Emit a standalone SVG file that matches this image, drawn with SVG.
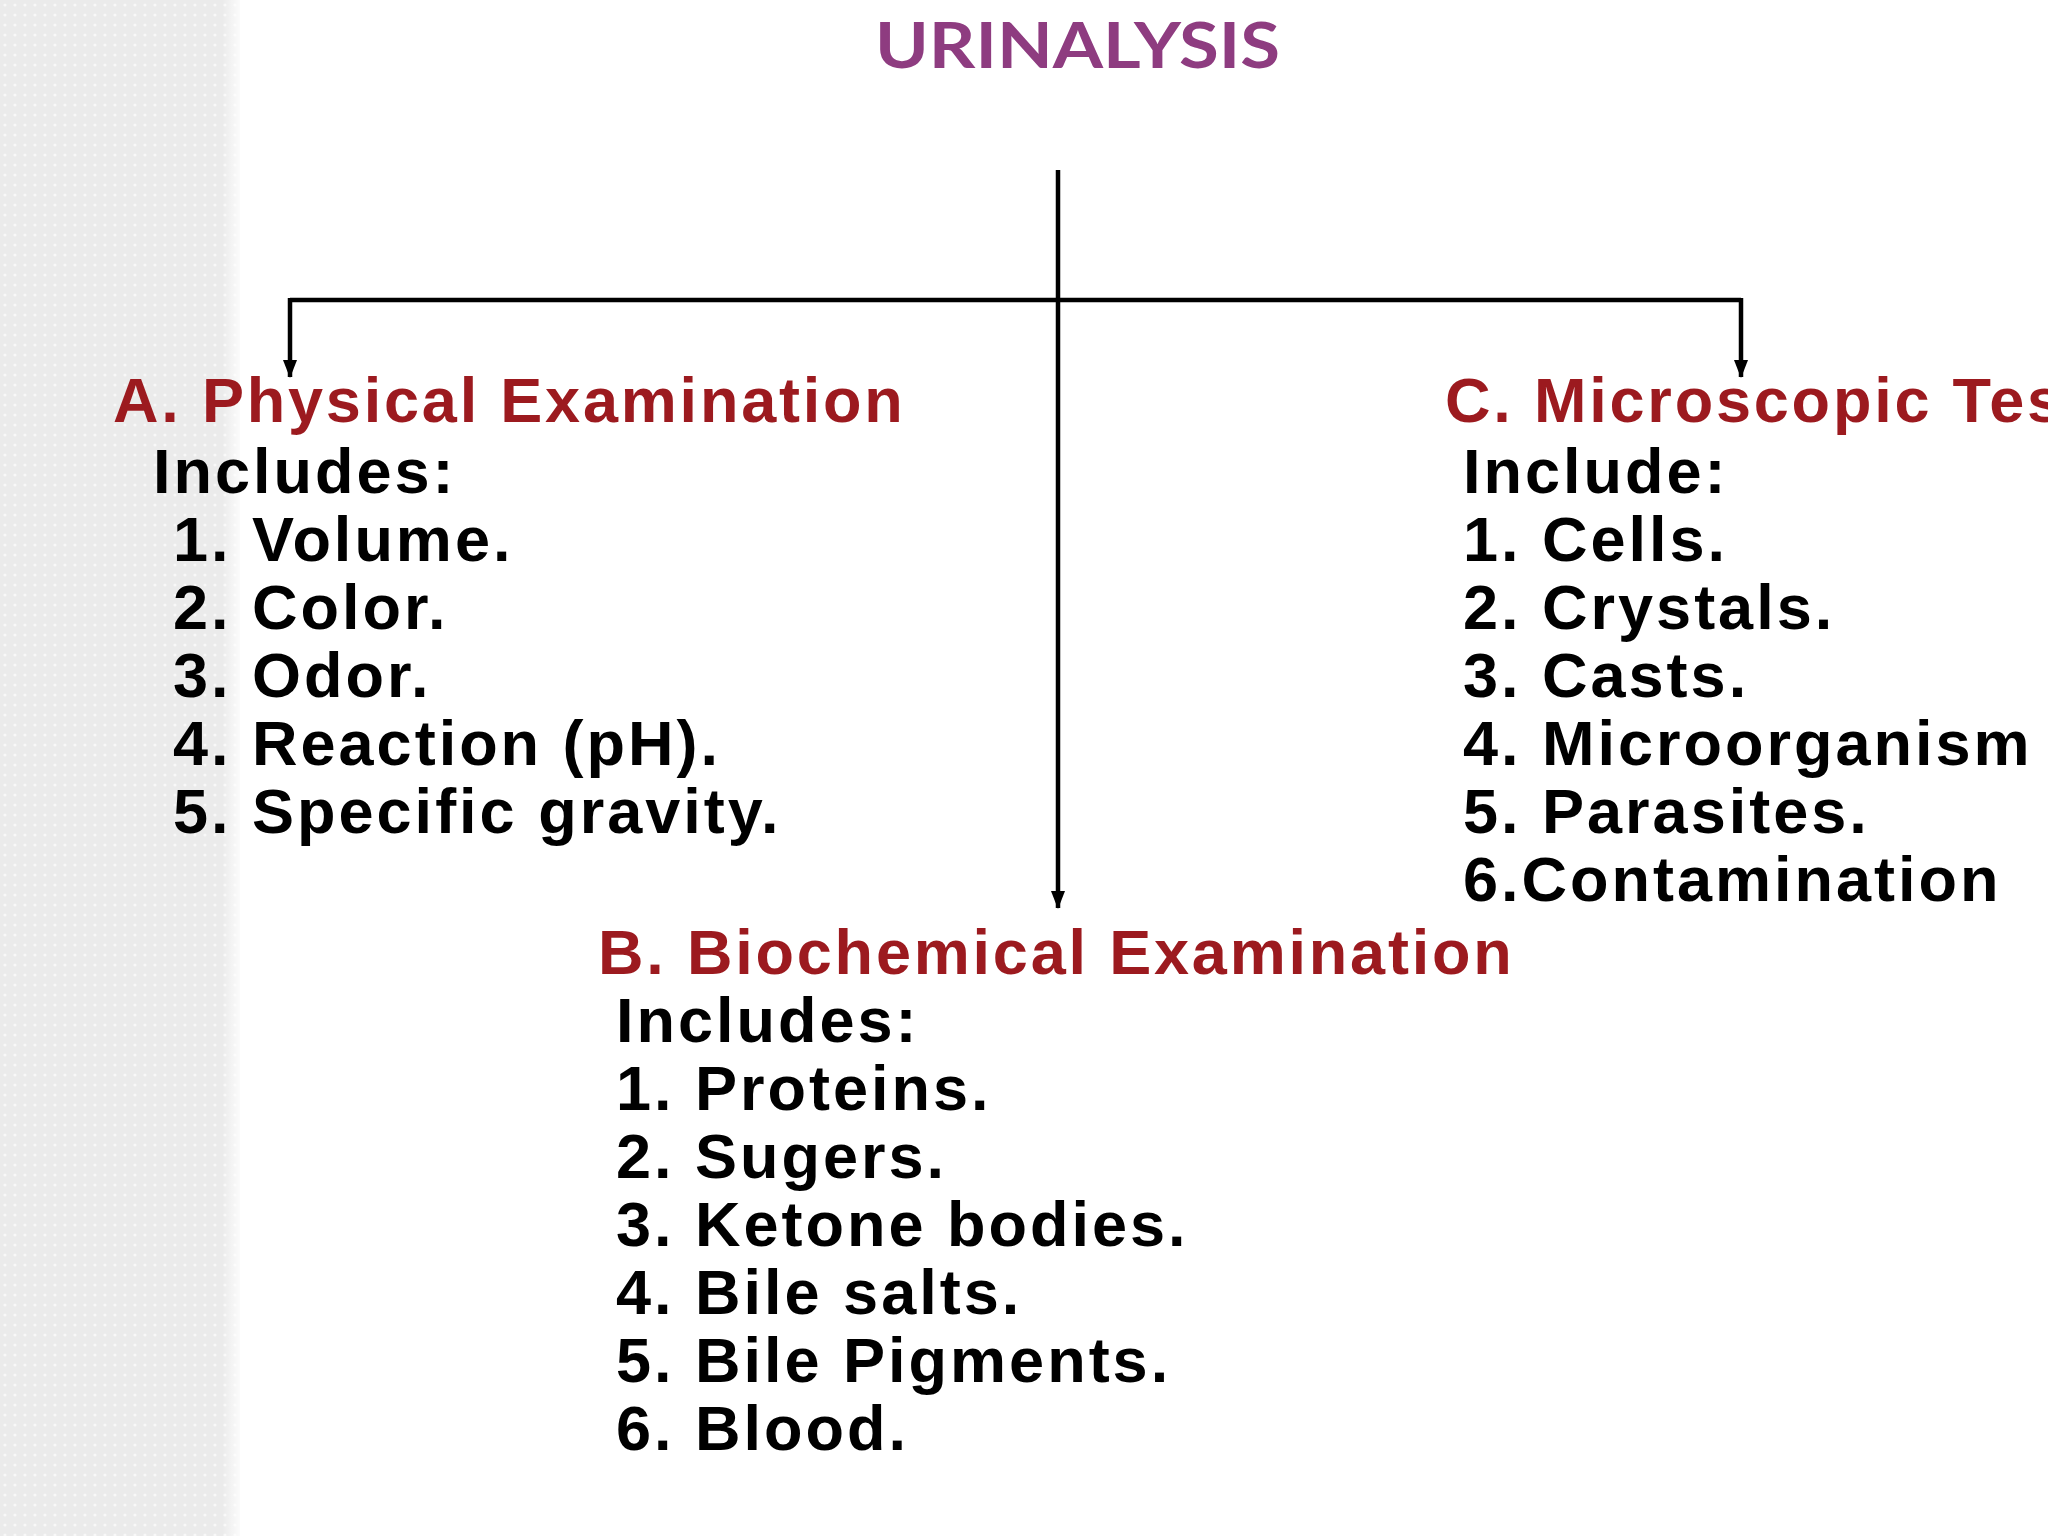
<svg xmlns="http://www.w3.org/2000/svg" width="2048" height="1536" viewBox="0 0 2048 1536">
  <defs>
    <pattern id="dots" x="0" y="0" width="10" height="10" patternUnits="userSpaceOnUse">
      <rect width="10" height="10" fill="#ebebeb"/>
      <circle cx="5" cy="5" r="1.6" fill="#f8f8f8"/>
    </pattern>
    <linearGradient id="fade" x1="0" y1="0" x2="1" y2="0">
      <stop offset="0" stop-color="#ffffff" stop-opacity="0"/>
      <stop offset="1" stop-color="#ffffff" stop-opacity="1"/>
    </linearGradient>
    <marker id="arrow" viewBox="0 0 18 14" refX="17" refY="7" markerWidth="18" markerHeight="14" markerUnits="userSpaceOnUse" orient="auto">
      <path d="M0 0 L18 7 L0 14 Z" fill="#000"/>
    </marker>
    <style>
      .title { font-family: Lato, "Open Sans", "Liberation Sans", sans-serif; font-weight: bold; font-size: 64px; fill: #8e3c80; }
      .head { font-family: "Liberation Sans", Arial, sans-serif; font-weight: bold; font-size: 63px; letter-spacing: 2.8px; fill: #9c1a1f; }
      .item { font-family: "Liberation Sans", Arial, sans-serif; font-weight: bold; font-size: 63px; letter-spacing: 3px; fill: #000; }
      .conn { stroke: #000; stroke-width: 4.5; fill: none; }
    </style>
  </defs>

  <rect x="0" y="0" width="2048" height="1536" fill="#ffffff"/>
  <rect x="0" y="0" width="240" height="1536" fill="url(#dots)"/>
  <rect x="222" y="0" width="22" height="1536" fill="url(#fade)"/>

  <g id="title">
    <text class="title" x="875" y="68" textLength="405" lengthAdjust="spacingAndGlyphs">URINALYSIS</text>
  </g>

  <g id="connectors">
    <path class="conn" d="M1058 170 V908" stroke-width="4" marker-end="url(#arrow)"/>
    <path class="conn" d="M290 300 H1741"/>
    <path class="conn" d="M290 298 V377" stroke-width="4" marker-end="url(#arrow)"/>
    <path class="conn" d="M1741 298 V377" stroke-width="4" marker-end="url(#arrow)"/>
  </g>

  <g id="node-physical">
    <text class="head" x="113" y="422">A. Physical Examination</text>
    <text class="item" x="153" y="493">Includes:</text>
    <text class="item" x="173" y="561">1. Volume.</text>
    <text class="item" x="173" y="629">2. Color.</text>
    <text class="item" x="173" y="697">3. Odor.</text>
    <text class="item" x="173" y="765">4. Reaction (pH).</text>
    <text class="item" x="173" y="833">5. Specific gravity.</text>
  </g>

  <g id="node-microscopic">
    <text class="head" x="1445" y="422">C. Microscopic Test</text>
    <text class="item" x="1463" y="493">Include:</text>
    <text class="item" x="1463" y="561">1. Cells.</text>
    <text class="item" x="1463" y="629">2. Crystals.</text>
    <text class="item" x="1463" y="697">3. Casts.</text>
    <text class="item" x="1463" y="765">4. Microorganism</text>
    <text class="item" x="1463" y="833">5. Parasites.</text>
    <text class="item" x="1463" y="901">6.Contamination</text>
  </g>

  <g id="node-biochemical">
    <text class="head" x="598" y="974">B. Biochemical Examination</text>
    <text class="item" x="616" y="1042">Includes:</text>
    <text class="item" x="616" y="1110">1. Proteins.</text>
    <text class="item" x="616" y="1178">2. Sugers.</text>
    <text class="item" x="616" y="1246">3. Ketone bodies.</text>
    <text class="item" x="616" y="1314">4. Bile salts.</text>
    <text class="item" x="616" y="1382">5. Bile Pigments.</text>
    <text class="item" x="616" y="1450">6. Blood.</text>
  </g>
</svg>
